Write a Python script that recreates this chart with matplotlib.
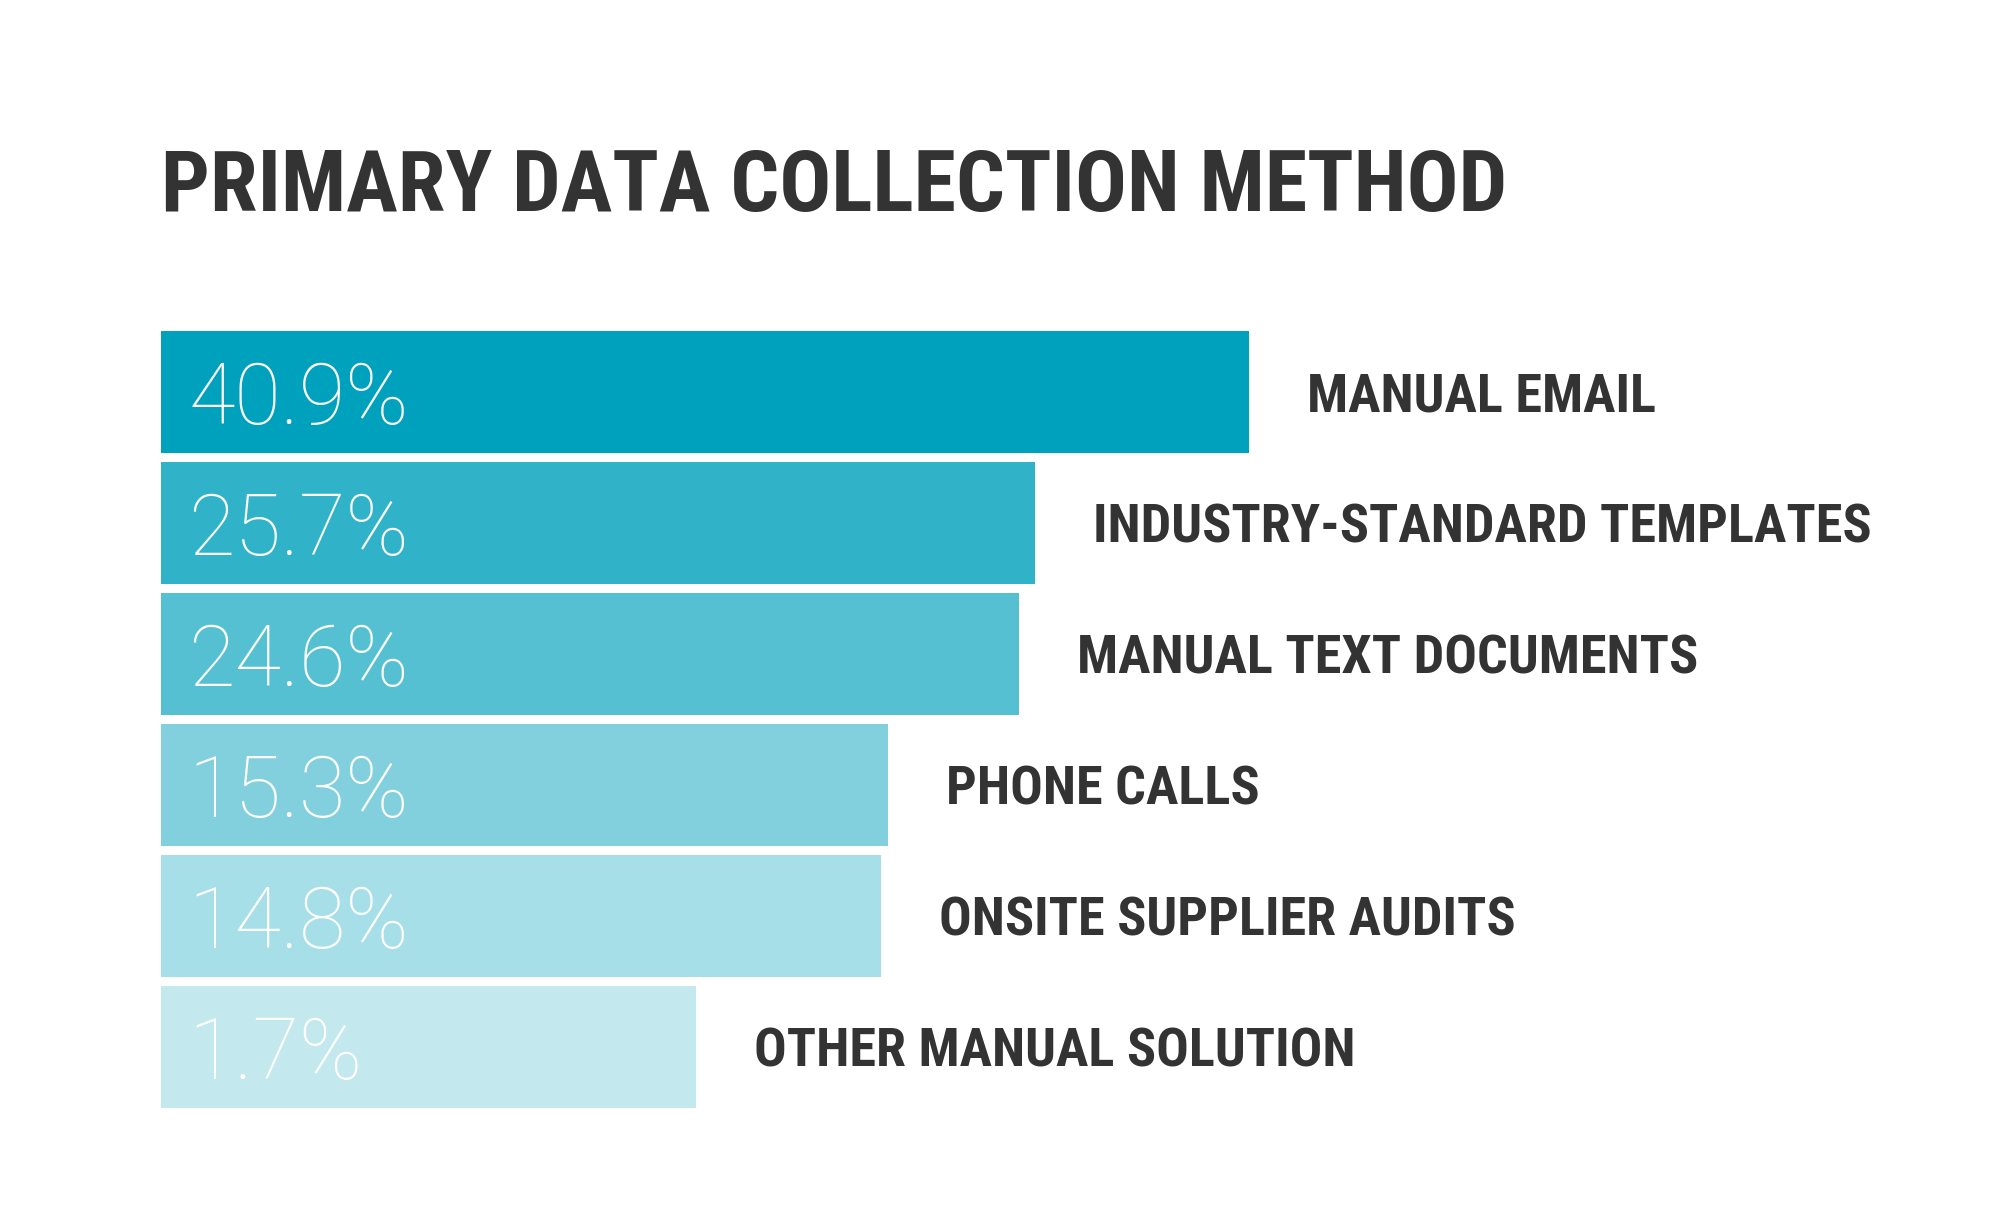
import matplotlib.pyplot as plt

categories = [
    "MANUAL EMAIL",
    "INDUSTRY-STANDARD TEMPLATES",
    "MANUAL TEXT DOCUMENTS",
    "PHONE CALLS",
    "ONSITE SUPPLIER AUDITS",
    "OTHER MANUAL SOLUTION",
]
values = [40.9, 25.7, 24.6, 15.3, 14.8, 1.7]
colors = ["#00a1bd", "#30b2c8", "#56c0d3", "#82d0de", "#a6dfe7", "#c3e8ee"]
title = "PRIMARY DATA COLLECTION METHOD"

# bars do not start at zero in the original, they grow from a common floor
BASE = -36.3
FONTS = ["Roboto Condensed", "Roboto"]

fig = plt.figure(figsize=(19.99, 12.30), dpi=100)
ax = fig.add_axes([0, 0, 1, 1])
ax.set_xlim(-47.7, 94.1)
ax.set_ylim(6.40, -2.99)
ax.axis("off")

ypos = list(range(len(values)))
ax.barh(ypos, [v - BASE for v in values], left=BASE, height=0.93, color=colors)

for y, v, name in zip(ypos, values, categories):
    ax.text(BASE + 1.95, y, f"{v}%", color="white", fontsize=61,
            family="Roboto", weight="light",
            va="center_baseline", ha="left")
    ax.text(v + 4.1, y, name, color="#333333", fontsize=39,
            family=FONTS, stretch="condensed", weight="bold",
            va="center_baseline", ha="left")

fig.text(161 / 1999, 1 - 179 / 1230, title, color="#333333", fontsize=62,
         family=FONTS, stretch="condensed", weight="bold",
         va="center_baseline", ha="left")

fig.savefig("out.png", dpi=100, facecolor="white")
